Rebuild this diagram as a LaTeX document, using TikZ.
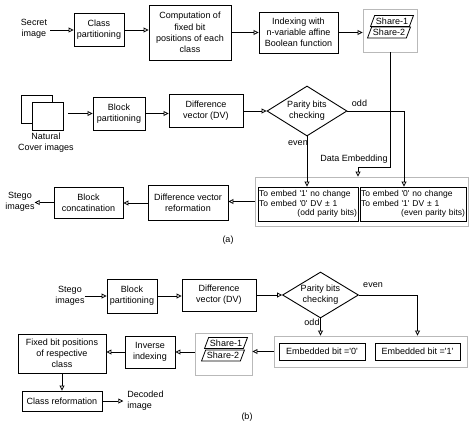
\documentclass[tikz,border=0pt]{standalone}
\usepackage{fontspec}
\setmainfont{Liberation Sans}
\usetikzlibrary{arrows.meta,shapes.geometric,calc}
\newcommand{\sq}{\textquotesingle}
\begin{document}
\begin{tikzpicture}[x=1pt,y=-1pt,
  every node/.style={font=\fontsize{9}{11.2}\selectfont},
  box/.style={draw, line width=0.9pt, align=center, inner sep=1pt},
  gbox/.style={draw=gray!55, line width=0.9pt, inner sep=0pt},
  lbl/.style={align=center, inner sep=0pt},
  arr/.style={line width=0.8pt, -{Triangle[open,length=5pt,width=5pt]}},
  dia/.style={draw, line width=0.9pt, diamond, aspect=1.6, inner sep=0pt, align=center},
  sharebox/.style={draw, line width=0.8pt, trapezium, trapezium left angle=60, trapezium right angle=120, trapezium stretches=true, inner sep=0pt, minimum width=43, minimum height=11},
  emb/.style={box, align=left, minimum height=34, font=\fontsize{8.5}{9.7}\selectfont}
]
\useasboundingbox (0,0) rectangle (474,437);
\fill[white] (0,0) rectangle (474,437);

% ---------- (a) ----------
\node[lbl] (secret) at (34,29) {Secret\\image};
\node[box, minimum width=50, minimum height=33] (classp) at (99,30) {Class\\partitioning};
\node[box, minimum width=82, minimum height=55] (comp) at (190,32.5) {Computation of\\fixed bit\\positions of each\\class};
\node[box, minimum width=79, minimum height=41] (index) at (298.5,32.5) {Indexing with\\n-variable affine\\Boolean function};
\node[gbox, minimum width=54, minimum height=43] (shareA) at (390,30.5) {};
\node[sharebox] (sa1) at (392,21) {Share-1};
\node[sharebox] (sa2) at (389,32.5) {Share-2};

\draw[arr, shorten <=3pt] (secret.east |- classp.west) -- (classp.west);
\draw[arr] (classp.east) -- (classp.east -| comp.west);
\draw[arr] (comp.east) -- (comp.east -| index.west);
\draw[arr] (index.east) -- (index.east -| shareA.west);

\node[draw, line width=0.8pt, minimum width=31, minimum height=28, inner sep=0pt] (back) at (36.5,109) {};
\node[draw, fill=white, line width=0.8pt, minimum width=31, minimum height=28, inner sep=0pt] (front) at (47.5,116) {};
\node[lbl] (coverlbl) at (46,142.5) {Natural\\Cover images};
\node[box, minimum width=52, minimum height=33] (blockp) at (119,113.5) {Block\\partitioning};
\node[box, minimum width=74, minimum height=33] (dv) at (206,111) {Difference\\vector (DV)};
\node[dia, minimum width=80, minimum height=50] (parity) at (307,111) {Parity bits\\checking};

\draw[arr, shorten <=5pt] (front.east |- blockp.west) -- (blockp.west);
\draw[arr] (blockp.east) -- (blockp.east -| dv.west);
\draw[arr] (dv.east) -- (parity.west);

\node[gbox, minimum width=213, minimum height=49] (outA) at (361.5,201.5) {};
\node[emb, text width=98] (embL) at (308,204) {To embed \sq1\sq{} no change\\To embed \sq0\sq{} DV ± 1\\\hspace*{0pt plus 1fill}(odd parity bits)};
\node[emb, text width=104] (embR) at (413,204) {To embed \sq0\sq{} no change\\To embed \sq1\sq{} DV ± 1\\\hspace*{0pt plus 1fill}(even parity bits)};

\node[lbl] (oddA) at (359.5,103) {odd};
\node[lbl] (evenA) at (298,143) {even};
\node[lbl] (deA) at (354,159) {Data Embedding};
\draw[arr] (parity.south) -- (parity.south |- embL.north);
\draw[arr] (parity.east) -| ([xshift=-9pt]embR.north);
\coordinate (deturn) at (358,167);
\draw[arr] (shareA.south) |- (deturn) -- (deturn |- outA.north);

\node[box, minimum width=80, minimum height=35] (dvr) at (188,203) {Difference vector\\reformation};
\node[box, minimum width=69, minimum height=31] (blockc) at (88.5,202.5) {Block\\concatination};
\node[lbl] (stegoA) at (20,202) {Stego\\images};
\draw[arr] (outA.west) -- (outA.west -| dvr.east);
\draw[arr] (dvr.west) -- (dvr.west -| blockc.east);
\draw[arr] (blockc.west) -- (blockc.west -| stegoA.east);
\node[lbl] (capA) at (228,240) {(a)};

% ---------- (b) ----------
\node[lbl] (stegoB) at (70,296) {Stego\\images};
\node[box, minimum width=50, minimum height=34] (bp2) at (132,296) {Block\\partitioning};
\node[box, minimum width=74, minimum height=32] (dv2) at (219,295) {Difference\\vector (DV)};
\node[dia, minimum width=76, minimum height=46] (par2) at (320.5,295) {Parity bits\\checking};
\draw[arr] (stegoB.east) -- (stegoB.east -| bp2.west);
\draw[arr] (bp2.east) -- (bp2.east -| dv2.west);
\draw[arr] (dv2.east) -- (par2.west);

\node[lbl] (evenB) at (373,285) {even};
\node[lbl] (oddB) at (312,322) {odd};
\node[gbox, minimum width=193, minimum height=31] (outB) at (370.5,351.5) {};
\node[box, minimum width=86, minimum height=17] (emb0) at (322,351.5) {Embedded bit =\sq0\sq};
\node[box, minimum width=85, minimum height=17] (emb1) at (417.5,351.5) {Embedded bit =\sq1\sq};
\draw[arr] (par2.south) -- (par2.south |- outB.north);
\draw[arr] (par2.east) -| (emb1.north |- outB.north);

\node[gbox, minimum width=57, minimum height=42] (shareB) at (223.5,354) {};
\node[sharebox] (sb1) at (226,343) {Share-1};
\node[sharebox] (sb2) at (223,355.5) {Share-2};
\draw[arr] (outB.west) -- (outB.west -| shareB.east);

\node[box, minimum width=50, minimum height=32] (inv) at (150,352) {Inverse\\indexing};
\draw[arr] (shareB.west |- inv.east) -- (inv.east);
\node[box, minimum width=88, minimum height=39] (fixed) at (62,353.5) {Fixed bit positions\\of respective\\class};
\draw[arr] (inv.west) -- (inv.west -| fixed.east);
\node[box, minimum width=80, minimum height=20] (cref) at (62,401) {Class reformation};
\draw[arr] (fixed.south) -- (cref.north);
\node[lbl, align=left] (decoded) at (145.5,401) {Decoded\\image};
\draw[arr, shorten >=4pt] (cref.east) -- (cref.east -| decoded.west);
\node[lbl] (capB) at (247,417) {(b)};
\end{tikzpicture}
\end{document}
